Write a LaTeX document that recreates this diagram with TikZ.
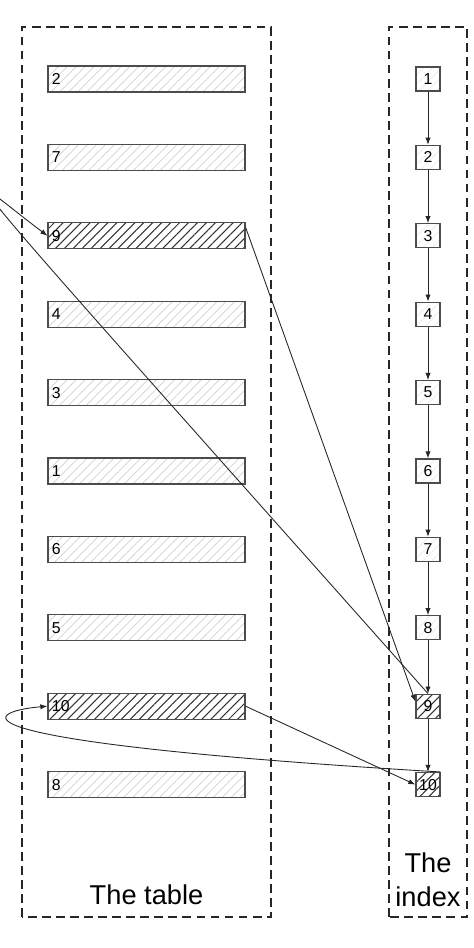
\documentclass[tikz,border=0pt]{standalone}
\usepackage{fontspec}
\setmainfont{Liberation Sans}
\usetikzlibrary{arrows.meta,patterns.meta}

\tikzset{
  frame/.style={dash pattern=on 5pt off 3pt, line width=0.8pt, draw=black!85},
  tablerow/.style={draw=black!70, line width=0.7pt, text width=3.78cm, inner xsep=0.08cm,
    minimum height=0.52cm, align=left, font=\fontsize{9}{10}\selectfont,
    pattern={Lines[angle=45,distance=3.6pt,line width=0.4pt]}, pattern color=black!18},
  hotrow/.style={tablerow, pattern={Lines[angle=45,distance=3.6pt,line width=0.6pt]}, pattern color=black!80},
  indexbox/.style={draw=black!70, line width=0.7pt, minimum size=0.48cm, inner sep=0pt,
    font=\fontsize{9}{10}\selectfont,
    pattern={Lines[angle=45,distance=3.6pt,line width=0.4pt]}, pattern color=black!8},
  hotbox/.style={indexbox, pattern={Lines[angle=45,distance=3.6pt,line width=0.6pt]}, pattern color=black!80},
  link/.style={-{Latex[length=4pt,width=3pt]}, line width=0.5pt, draw=black!85},
  caption/.style={font=\fontsize{15.5}{19.5}\selectfont, align=center}
}

\begin{document}
\begin{tikzpicture}
    \useasboundingbox (0,0) rectangle (9.48,18.96);

    % the two frames
    \draw[frame] (0.44,0.62) rectangle (5.42,18.42);
    \draw[frame] (7.78,0.62) rectangle (9.34,18.42);

    % rows of the table
    \foreach \v/\s [count=\i] in {2/tablerow,7/tablerow,9/hotrow,4/tablerow,3/tablerow,
                                  1/tablerow,6/tablerow,5/tablerow,10/hotrow,8/tablerow}
      \node[\s] (row\v) at (2.93,{17.38-1.568*(\i-1)}) {\v};

    % entries of the index
    \foreach \i/\s in {1/indexbox,2/indexbox,3/indexbox,4/indexbox,5/indexbox,
                       6/indexbox,7/indexbox,8/indexbox,9/hotbox,10/hotbox}
      \node[\s] (idx\i) at (8.56,{17.38-1.568*(\i-1)}) {\i};

    \foreach \a/\b in {1/2,2/3,3/4,4/5,5/6,6/7,7/8,8/9,9/10}
      \draw[link] (idx\a) -- (idx\b);

    % pointers
    \draw[link] (row9.5) -- (idx9.160);
    \draw[link] (row10.east) -- (idx10.west);
    \draw[link] (idx9.north) .. controls (-2,16.96) and (-0.8,15.56) .. (row9.west);
    \draw[link] (idx10.north east) .. controls (-1.2,4.12) and (-0.4,4.72) .. (row10.west);

    \node[caption] (tablelbl) at (2.93,1.06) {The table};
    \node[caption] (indexlbl) at (8.56,1.36) {The\\index};
\end{tikzpicture}
\end{document}
